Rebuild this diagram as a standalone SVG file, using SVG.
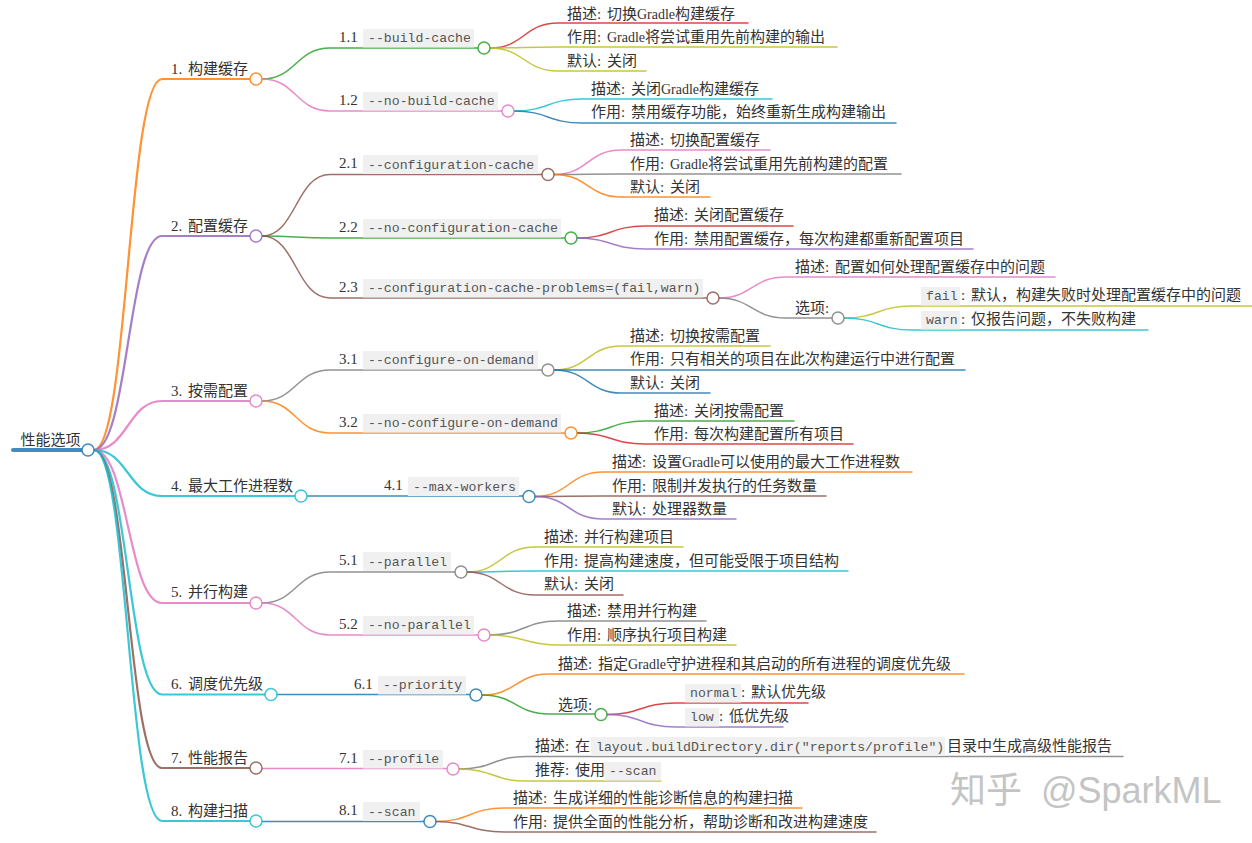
<svg xmlns="http://www.w3.org/2000/svg" width="1252" height="843" viewBox="0 0 1252 843">
<style>
text{font-family:"Liberation Serif","Noto Sans CJK SC",serif;font-size:15px;fill:#333;word-spacing:2px}
tspan{font-size:14px}
.c{font-family:"Liberation Mono","Noto Sans CJK SC",monospace;font-size:13.2px;fill:#555;word-spacing:0}
.b{fill:#f0f0f0}
#connectors path{fill:none;stroke-width:1.5;stroke-linecap:round;stroke-opacity:.85}
#connectors .l1{stroke-width:2.2}
circle{fill:#fff;stroke-width:1.5;stroke-opacity:.85}
.org{stroke:#ff7f0e}.pur{stroke:#9467bd}.pnk{stroke:#e377c2}.cyn{stroke:#17becf}.brn{stroke:#8c564b}.grn{stroke:#2ca02c}.red{stroke:#d62728}.gry{stroke:#7f7f7f}.olv{stroke:#bcbd22}.blu{stroke:#1f77b4}
.wm{font-family:"Liberation Sans","Noto Sans CJK SC",sans-serif;font-size:36px;fill:#c4c4c4;word-spacing:0}
</style>
<rect width="1252" height="843" fill="#fff"/>
<g id="connectors">
<path class="blu" style="stroke-width:4" d="M13 450H82"/>
<path class="l1 org" d="M94 450C128 450 128 79 162 79H250"/>
<path class="l1 pur" d="M94 450C128 450 128 236 162 236H250"/>
<path class="l1 pnk" d="M94 450C128 450 128 401 162 401H250"/>
<path class="l1 cyn" d="M94 450C128 450 128 496 162 496H295"/>
<path class="l1 pnk" d="M94 450C128 450 128 603 162 603H250"/>
<path class="l1 cyn" d="M94 450C128 450 128 694.500 162 694.500H265"/>
<path class="l1 brn" d="M94 450C128 450 128 768 162 768H250"/>
<path class="l1 cyn" d="M94 450C128 450 128 821 162 821H250"/>
<path class="grn" d="M262 79C296 79 296 48 330 48H478"/>
<path class="pnk" d="M262 79C296 79 296 111 330 111H502"/>
<path class="brn" d="M262 236C296 236 296 174.500 330 174.500H542"/>
<path class="grn" d="M262 236C296 236 296 238 330 238H565"/>
<path class="brn" d="M262 236C296 236 296 298 330 298H707"/>
<path class="gry" d="M262 401C296 401 296 370 330 370H542"/>
<path class="org" d="M262 401C296 401 296 433 330 433H565"/>
<path class="blu" d="M307 496H523"/>
<path class="gry" d="M262 603C296 603 296 572 330 572H455"/>
<path class="pnk" d="M262 603C296 603 296 635 330 635H478"/>
<path class="blu" d="M277 694.500H470"/>
<path class="pnk" d="M262 768.500H447"/>
<path class="blu" d="M262 821.500H424"/>
<path class="red" d="M490 48C524 48 524 23 558 23H748"/>
<path class="olv" d="M490 48C524 48 524 47 558 47H837"/>
<path class="olv" d="M490 48C524 48 524 71 558 71H646"/>
<path class="cyn" d="M514 111C548 111 548 99 582 99H772"/>
<path class="blu" d="M514 111C548 111 548 123 582 123H896"/>
<path class="pnk" d="M554 174.500C588 174.500 588 150 621 150H770"/>
<path class="gry" d="M554 174.500C588 174.500 588 174 621 174H901"/>
<path class="org" d="M554 174.500C588 174.500 588 197 621 197H710"/>
<path class="red" d="M577 238C611 238 611 226 645 226H793"/>
<path class="pur" d="M577 238C611 238 611 249 645 249H973"/>
<path class="pnk" d="M719 298C752 298 752 277 786 277H1055"/>
<path class="gry" d="M719 298C752 298 752 318 786 318H832"/>
<path class="olv" d="M844 318C878 318 878 306 912 306H1252"/>
<path class="cyn" d="M844 318C878 318 878 330 912 330H1148"/>
<path class="olv" d="M554 370C588 370 588 346 621 346H770"/>
<path class="blu" d="M554 370C588 370 588 370 621 370H965"/>
<path class="blu" d="M554 370C588 370 588 393 621 393H710"/>
<path class="grn" d="M577 433C611 433 611 421 645 421H794"/>
<path class="red" d="M577 433C611 433 611 444 645 444H853"/>
<path class="org" d="M535 496.500C569 496.500 569 472 603 472H912"/>
<path class="brn" d="M535 496.500C569 496.500 569 496 603 496H826"/>
<path class="pur" d="M535 496.500C569 496.500 569 519 603 519H736"/>
<path class="olv" d="M467 572C501 572 501 547 535 547H683"/>
<path class="cyn" d="M467 572C501 572 501 571 535 571H848"/>
<path class="brn" d="M467 572C501 572 501 595 535 595H623"/>
<path class="gry" d="M490 635C524 635 524 621 558 621H706"/>
<path class="olv" d="M490 635C524 635 524 645 558 645H736"/>
<path class="org" d="M482 695C516 695 516 674 549 674H964"/>
<path class="grn" d="M482 695C516 695 516 714 549 714H595"/>
<path class="red" d="M607 714.500C641 714.500 641 703 676 703H808"/>
<path class="pur" d="M607 714.500C641 714.500 641 727 676 727H783"/>
<path class="gry" d="M459 769C493 769 493 756.500 526 756.500H1123"/>
<path class="olv" d="M459 769C493 769 493 781 526 781H661"/>
<path class="org" d="M436 821.500C470 821.500 470 808 504 808H802"/>
<path class="brn" d="M436 821.500C470 821.500 470 832 504 832H876"/>
</g>
<g id="root"><text x="20.500" y="445">性能选项</text><circle class="blu" cx="88" cy="450" r="6"/></g>
<g id="n1"><text x="171" y="74">1. 构建缓存</text><circle class="org" cx="256" cy="79" r="6"/></g>
<g id="n2"><text x="171" y="231">2. 配置缓存</text><circle class="pur" cx="256" cy="236" r="6"/></g>
<g id="n3"><text x="171" y="396">3. 按需配置</text><circle class="pnk" cx="256" cy="401" r="6"/></g>
<g id="n4"><text x="171" y="491">4. 最大工作进程数</text><circle class="cyn" cx="301" cy="496" r="6"/></g>
<g id="n5"><text x="171" y="597">5. 并行构建</text><circle class="pnk" cx="256" cy="603" r="6"/></g>
<g id="n6"><text x="171" y="689">6. 调度优先级</text><circle class="cyn" cx="271" cy="694.500" r="6"/></g>
<g id="n7"><text x="171" y="763">7. 性能报告</text><circle class="brn" cx="256" cy="768" r="6"/></g>
<g id="n8"><text x="171" y="816">8. 构建扫描</text><circle class="cyn" cx="256" cy="821" r="6"/></g>
<g id="n1-1"><text x="339" y="42">1.1</text><rect class="b" x="363" y="29" width="111" height="18.500"/><text class="c" x="368" y="42">--build-cache</text><circle class="grn" cx="484" cy="48" r="6"/></g>
<g id="n1-2"><text x="339" y="105">1.2</text><rect class="b" x="363" y="92" width="135" height="18.500"/><text class="c" x="368" y="105">--no-build-cache</text><circle class="pnk" cx="508" cy="111" r="6"/></g>
<g id="n2-1"><text x="339" y="168">2.1</text><rect class="b" x="363" y="155" width="175" height="19"/><text class="c" x="368" y="169">--configuration-cache</text><circle class="brn" cx="548" cy="174.500" r="6"/></g>
<g id="n2-2"><text x="339" y="232">2.2</text><rect class="b" x="363" y="219" width="198" height="18.500"/><text class="c" x="368" y="232">--no-configuration-cache</text><circle class="grn" cx="571" cy="238" r="6"/></g>
<g id="n2-3"><text x="339" y="292">2.3</text><rect class="b" x="363" y="279" width="340" height="18.500"/><text class="c" x="368" y="292">--configuration-cache-problems=(fail,warn)</text><circle class="brn" cx="713" cy="298" r="6"/></g>
<g id="n3-1"><text x="339" y="364">3.1</text><rect class="b" x="363" y="351" width="175" height="18.500"/><text class="c" x="368" y="364">--configure-on-demand</text><circle class="gry" cx="548" cy="370" r="6"/></g>
<g id="n3-2"><text x="339" y="427">3.2</text><rect class="b" x="363" y="414" width="198" height="18.500"/><text class="c" x="368" y="427">--no-configure-on-demand</text><circle class="org" cx="571" cy="433" r="6"/></g>
<g id="n4-1"><text x="384" y="490">4.1</text><rect class="b" x="408" y="477" width="111" height="19"/><text class="c" x="413" y="491">--max-workers</text><circle class="blu" cx="529" cy="496.500" r="6"/></g>
<g id="n5-1"><text x="339" y="565">5.1</text><rect class="b" x="363" y="552" width="88" height="19"/><text class="c" x="368" y="566">--parallel</text><circle class="gry" cx="461" cy="572" r="6"/></g>
<g id="n5-2"><text x="339" y="629">5.2</text><rect class="b" x="363" y="616" width="111" height="18.500"/><text class="c" x="368" y="629">--no-parallel</text><circle class="pnk" cx="484" cy="635" r="6"/></g>
<g id="n6-1"><text x="354" y="689">6.1</text><rect class="b" x="378" y="676" width="88" height="18.500"/><text class="c" x="383" y="689">--priority</text><circle class="blu" cx="476" cy="695" r="6"/></g>
<g id="n7-1"><text x="339" y="763">7.1</text><rect class="b" x="363" y="750" width="80" height="18.500"/><text class="c" x="368" y="763">--profile</text><circle class="pnk" cx="453" cy="769" r="6"/></g>
<g id="n8-1"><text x="339" y="815">8.1</text><rect class="b" x="363" y="802" width="57" height="19"/><text class="c" x="368" y="816">--scan</text><circle class="blu" cx="430" cy="821.500" r="6"/></g>
<g id="l1"><text x="567" y="19">描述: 切换<tspan>Gradle</tspan>构建缓存</text></g>
<g id="l2"><text x="567" y="42">作用: <tspan>Gradle</tspan>将尝试重用先前构建的输出</text></g>
<g id="l3"><text x="567" y="66">默认: 关闭</text></g>
<g id="l4"><text x="591" y="94">描述: 关闭<tspan>Gradle</tspan>构建缓存</text></g>
<g id="l5"><text x="591" y="117">作用: 禁用缓存功能，始终重新生成构建输出</text></g>
<g id="l6"><text x="630" y="145">描述: 切换配置缓存</text></g>
<g id="l7"><text x="630" y="169">作用: <tspan>Gradle</tspan>将尝试重用先前构建的配置</text></g>
<g id="l8"><text x="630" y="192">默认: 关闭</text></g>
<g id="l9"><text x="654" y="220">描述: 关闭配置缓存</text></g>
<g id="l10"><text x="654" y="244">作用: 禁用配置缓存，每次构建都重新配置项目</text></g>
<g id="l11"><text x="795" y="272">描述: 配置如何处理配置缓存中的问题</text></g>
<g id="opt1"><text x="795" y="313">选项:</text><circle class="gry" cx="838" cy="318" r="6"/></g>
<g id="l12"><rect class="b" x="921" y="287" width="39" height="18.500"/><text class="c" x="926" y="300">fail</text><text x="961" y="300">: 默认，构建失败时处理配置缓存中的问题</text></g>
<g id="l13"><rect class="b" x="921" y="311" width="39" height="18.500"/><text class="c" x="926" y="324">warn</text><text x="961" y="324">: 仅报告问题，不失败构建</text></g>
<g id="l14"><text x="630" y="341">描述: 切换按需配置</text></g>
<g id="l15"><text x="630" y="364">作用: 只有相关的项目在此次构建运行中进行配置</text></g>
<g id="l16"><text x="630" y="388">默认: 关闭</text></g>
<g id="l17"><text x="654" y="416">描述: 关闭按需配置</text></g>
<g id="l18"><text x="654" y="439">作用: 每次构建配置所有项目</text></g>
<g id="l19"><text x="612" y="467">描述: 设置<tspan>Gradle</tspan>可以使用的最大工作进程数</text></g>
<g id="l20"><text x="612" y="491">作用: 限制并发执行的任务数量</text></g>
<g id="l21"><text x="612" y="514">默认: 处理器数量</text></g>
<g id="l22"><text x="544" y="542">描述: 并行构建项目</text></g>
<g id="l23"><text x="544" y="566">作用: 提高构建速度，但可能受限于项目结构</text></g>
<g id="l24"><text x="544" y="589">默认: 关闭</text></g>
<g id="l25"><text x="567" y="616">描述: 禁用并行构建</text></g>
<g id="l26"><text x="567" y="640">作用: 顺序执行项目构建</text></g>
<g id="l27"><text x="558" y="669">描述: 指定<tspan>Gradle</tspan>守护进程和其启动的所有进程的调度优先级</text></g>
<g id="opt2"><text x="558" y="710">选项:</text><circle class="grn" cx="601" cy="714.500" r="6"/></g>
<g id="l28"><rect class="b" x="685" y="684" width="56" height="18.500"/><text class="c" x="690" y="697">normal</text><text x="741" y="697">: 默认优先级</text></g>
<g id="l29"><rect class="b" x="685" y="708" width="34" height="18.500"/><text class="c" x="690" y="721">low</text><text x="719" y="721">: 低优先级</text></g>
<g id="l30"><text x="535" y="751">描述: 在</text><rect class="b" x="591" y="737" width="354" height="19"/><text class="c" x="596" y="751">layout.buildDirectory.dir("reports/profile")</text><text x="947" y="751">目录中生成高级性能报告</text></g>
<g id="l31"><text x="535" y="775">推荐: 使用</text><rect class="b" x="604" y="762" width="57" height="18.500"/><text class="c" x="609" y="775">--scan</text></g>
<g id="l32"><text x="513" y="803">描述: 生成详细的性能诊断信息的构建扫描</text></g>
<g id="l33"><text x="513" y="827">作用: 提供全面的性能分析，帮助诊断和改进构建速度</text></g>
<text class="wm" x="950" y="803">知乎</text>
<text class="wm" x="1041" y="803">@SparkML</text>
</svg>
